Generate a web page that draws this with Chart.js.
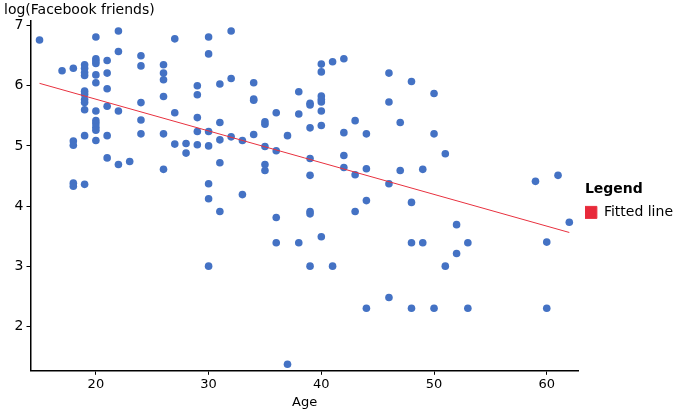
<!DOCTYPE html>
<html>
<head>
<meta charset="utf-8">
<script src="https://cdn.jsdelivr.net/npm/chart.js@4"></script>
<style>
  html, body { margin: 0; padding: 0; background: #fff; }
  #wrap { width: 677px; height: 412px; }
</style>
</head>
<body>
<div id="wrap"><canvas id="myChart"></canvas></div>
<script>
// ages and log(friends)
const ages = [
  15, 17,
  18, 18, 18, 18, 18,
  19, 19, 19, 19, 19, 19, 19, 19, 19, 19, 19,
  20, 20, 20, 20, 20, 20, 20, 20, 20, 20, 20, 20,
  21, 21, 21, 21, 21, 21,
  22, 22, 22, 22,
  23,
  24, 24, 24, 24, 24,
  26, 26, 26, 26, 26, 26,
  27, 27, 27,
  28, 28,
  29, 29, 29, 29, 29,
  30, 30, 30, 30, 30, 30, 30,
  31, 31, 31, 31, 31,
  32, 32, 32,
  33, 33,
  34, 34, 34, 34,
  35, 35, 35, 35, 35,
  36, 36, 36, 36,
  37, 37,
  38, 38, 38,
  39, 39, 39, 39, 39, 39, 39, 39,
  40, 40, 40, 40, 40, 40, 40, 40,
  41, 41,
  42, 42, 42, 42,
  43, 43, 43,
  44, 44, 44, 44,
  46, 46, 46, 46,
  47, 47,
  48, 48, 48, 48,
  49, 49,
  50, 50, 50,
  51, 51,
  52, 52,
  53, 53,
  59, 60, 60, 61, 62
];
const logFriends = [
  6.76, 6.25,
  6.29, 5.08, 5.01, 4.38, 4.33,
  6.35, 6.29, 6.22, 6.17, 5.91, 5.86, 5.77, 5.72, 5.60, 5.17, 4.36,
  6.81, 6.45, 6.41, 6.37, 6.18, 6.05, 5.58, 5.42, 5.37, 5.31, 5.26, 5.09,
  6.42, 6.21, 5.95, 5.66, 5.17, 4.80,
  6.91, 6.57, 5.58, 4.69,
  4.74,
  6.50, 6.33, 5.72, 5.43, 5.20,
  6.35, 6.21, 6.10, 5.82, 5.20, 4.61,
  6.78, 5.55, 5.03,
  5.04, 4.88,
  6.00, 5.85, 5.47, 5.24, 5.02,
  6.81, 6.53, 5.24, 5.00, 4.37, 4.12, 3.00,
  6.03, 5.39, 5.10, 4.72, 3.91,
  6.91, 6.12, 5.15,
  5.09, 4.19,
  6.05, 5.78, 5.76, 5.19,
  5.40, 5.36, 4.99, 4.69, 4.59,
  5.55, 4.92, 3.81, 3.39,
  5.17, 1.37,
  5.90, 5.53, 3.39,
  5.71, 5.68, 5.30, 4.79, 4.51, 3.91, 3.87, 3.00,
  6.36, 6.23, 5.83, 5.77, 5.73, 5.58, 5.34, 3.49,
  6.40, 3.00,
  6.45, 5.22, 4.84, 4.64,
  5.42, 4.52, 3.91,
  5.20, 4.62, 4.09, 2.30,
  6.21, 5.73, 4.37, 2.48,
  5.39, 4.59,
  6.07, 4.06, 3.39, 2.30,
  4.61, 3.39,
  5.87, 5.20, 2.30,
  4.87, 3.00,
  3.69, 3.21,
  3.39, 2.30,
  4.41, 3.40, 2.30, 4.51, 3.73
];
// fitted line ends
const fitAges = [15, 62];
const fitValues = [6.04, 3.56];

const xTicks = [20, 30, 40, 50, 60];
const yTicks = [2, 3, 4, 5, 6, 7];

const FONT = 'DejaVu Sans, Verdana, sans-serif';

const ctx = document.getElementById('myChart');

new Chart(ctx, {
  type: 'scatter',
  data: {
    datasets: [{
      type: 'line',
      label: 'Fitted line',
      data: fitAges.map((a, i) => ({ x: a, y: fitValues[i] })),
      borderColor: '#e8313f',
      backgroundColor: '#e8293a',
      borderWidth: 1,
      pointRadius: 0,
      fill: false
    }, {
      label: 'points',
      data: ages.map((a, i) => ({ x: a, y: logFriends[i] })),
      backgroundColor: '#4472c4',
      borderWidth: 0,
      pointRadius: 3.8
    }]
  },
  options: {
    responsive: true,
    maintainAspectRatio: false,
    animation: false,
    layout: { padding: { left: 4, right: -6, top: 0, bottom: 2 } },
    plugins: {
      tooltip: { enabled: false },
      title: {
        display: true,
        text: 'log(Facebook friends)',
        align: 'start',
        color: '#000',
        font: { family: FONT, size: 14, weight: 'normal' },
        padding: { top: 2, bottom: 2 }
      },
      legend: {
        position: 'right',
        align: 'center',
        title: {
          display: true,
          text: 'Legend',
          position: 'start',
          color: '#000',
          font: { family: FONT, size: 14, weight: 'bold' },
          padding: { top: -8, bottom: 6 }
        },
        labels: {
          filter: item => item.text === 'Fitted line',
          color: '#000',
          boxWidth: 12,
          boxHeight: 12,
          padding: 0,
          font: { family: FONT, size: 14 }
        }
      }
    },
    scales: {
      x: {
        type: 'linear',
        min: 14.2,
        max: 62.85,
        afterBuildTicks: scale => { scale.ticks = xTicks.map(v => ({ value: v })); },
        border: { color: '#000', width: 1.5 },
        grid: { display: true, drawOnChartArea: false, color: '#000', tickLength: 4 },
        ticks: { color: '#000', font: { family: FONT, size: 13 }, padding: 2 },
        title: {
          display: true,
          text: 'Age',
          color: '#000',
          font: { family: FONT, size: 13 },
          padding: { top: 0, bottom: 0 }
        }
      },
      y: {
        min: 1.26,
        max: 7.08,
        afterBuildTicks: scale => { scale.ticks = yTicks.map(v => ({ value: v })); },
        afterFit: scale => { scale.width = 26.5; },
        border: { color: '#000', width: 1.5 },
        grid: { display: true, drawOnChartArea: false, color: '#000', tickLength: 4 },
        ticks: { color: '#000', font: { family: FONT, size: 14 }, padding: 3 }
      },
      // empty right-hand axis, only keeps a gap before the legend
      gap: {
        position: 'right',
        afterFit: scale => { scale.width = 6; },
        border: { display: false },
        grid: { display: false },
        ticks: { display: false }
      }
    }
  }
});
</script>
</body>
</html>
